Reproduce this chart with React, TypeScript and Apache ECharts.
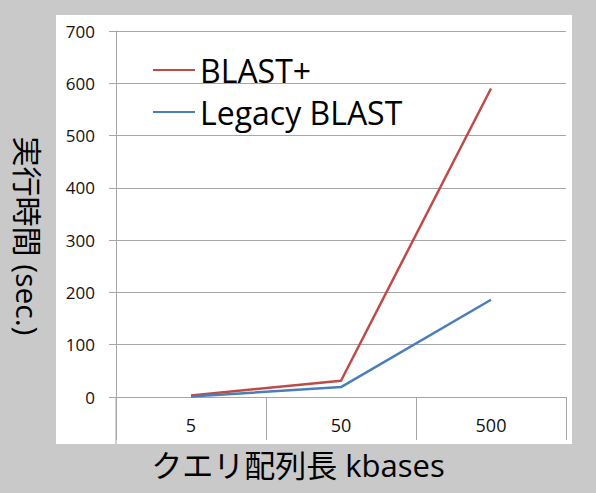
import { useEffect, useRef } from 'react'
import * as echarts from 'echarts'

const categories = ['5', '50', '500']
const blastPlus = [3, 31, 590]
const legacyBlast = [1, 19, 186]
const seriesNames = ['BLAST+', 'Legacy BLAST']
const yTitle = '実行時間 (sec.)'
const xTitle = 'クエリ配列長 kbases'

const FONT = "'Open Sans', 'Noto Sans CJK JP', sans-serif"
const GRID_COLOR = '#a6a6a6'

export default function App() {
  const ref = useRef<HTMLDivElement>(null)

  useEffect(() => {
    if (!ref.current) return
    const chart = echarts.init(ref.current, undefined, { renderer: 'svg' })
    chart.setOption({
      animation: false,
      backgroundColor: '#c9c9c9',
      textStyle: { fontFamily: FONT },
      graphic: [
        { type: 'rect', z: -10, shape: { x: 56, y: 15, width: 516, height: 429 }, style: { fill: '#ffffff' } },
        { type: 'line', z: 1, shape: { x1: 116, y1: 397, x2: 116, y2: 444 }, style: { stroke: GRID_COLOR, lineWidth: 1 } },
        {
          type: 'text', x: 27, y: 236, rotation: -Math.PI / 2,
          style: { text: yTitle, fontSize: 30, fontFamily: FONT, fill: '#000', align: 'center', verticalAlign: 'middle' },
        },
        {
          type: 'text', x: 298, y: 465,
          style: { text: xTitle, fontSize: 31, fontFamily: FONT, fill: '#000', align: 'center', verticalAlign: 'middle' },
        },
      ],
      grid: { left: 116, top: 31, width: 450, height: 366 },
      legend: {
        orient: 'vertical', left: 148, top: 47,
        data: seriesNames, icon: 'rect', itemWidth: 42, itemHeight: 2, itemGap: 6,
        textStyle: { fontSize: 32, lineHeight: 36, color: '#000', fontFamily: FONT },
      },
      xAxis: {
        type: 'category', data: categories, boundaryGap: true,
        axisLine: { lineStyle: { color: GRID_COLOR } },
        axisTick: { show: true, interval: 0, length: 43, lineStyle: { color: GRID_COLOR } },
        axisLabel: { fontSize: 18, color: '#111', margin: 19, fontFamily: FONT },
      },
      yAxis: {
        type: 'value', min: 0, max: 700, interval: 100,
        axisLine: { show: true, lineStyle: { color: GRID_COLOR } },
        axisTick: { show: true, length: 7, lineStyle: { color: GRID_COLOR } },
        axisLabel: { fontSize: 17, color: '#111', margin: 21, fontFamily: FONT },
        splitLine: { lineStyle: { color: GRID_COLOR } },
      },
      series: [
        {
          name: seriesNames[0], type: 'line', data: blastPlus, symbol: 'none',
          lineStyle: { color: '#be4b48', width: 2.5 }, itemStyle: { color: '#be4b48' },
        },
        {
          name: seriesNames[1], type: 'line', data: legacyBlast, symbol: 'none',
          lineStyle: { color: '#4a7ebb', width: 2.5 }, itemStyle: { color: '#4a7ebb' },
        },
      ],
    })
    return () => chart.dispose()
  }, [])

  return <div ref={ref} style={{ position: 'fixed', left: 0, top: 0, width: 596, height: 493 }} />
}
